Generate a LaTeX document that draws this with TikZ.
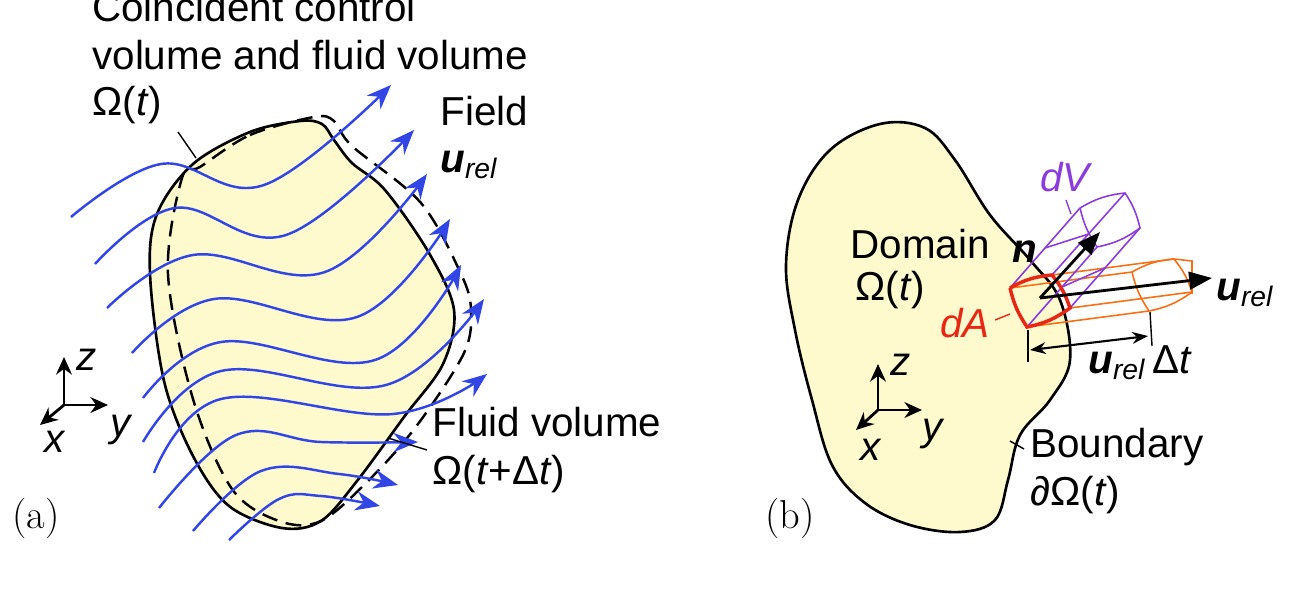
\documentclass[tikz,border=0pt]{standalone}
\usepackage{fontspec}
\setmainfont{Liberation Sans}
\newfontfamily\lmfont{Latin Modern Roman}
\usetikzlibrary{arrows.meta,calc}
\definecolor{blobfill}{RGB}{255,250,205}
\definecolor{flow}{RGB}{50,70,230}
\definecolor{vpurple}{RGB}{140,60,220}
\definecolor{aorange}{RGB}{250,110,20}
\definecolor{ared}{RGB}{230,40,20}
\tikzset{
 lbl/.style={anchor=base west,inner sep=0pt,font=\fontsize{23}{27}\selectfont},
 blob/.style={line width=1.5pt,fill=blobfill},
 stream/.style={flow,line width=1.4pt,-{Stealth[length=14pt,width=11pt]}},
 ax/.style={line width=1.6pt,-{Stealth[length=10pt,width=9pt]}},
 lead/.style={line width=0.8pt},
 vec/.style={line width=1.6pt,-{Triangle[length=13pt,width=10pt]}}
}
\newcommand{\urel}{\textbf{\textit{u}}\textsubscript{\textit{rel}}}
\begin{document}
\begin{tikzpicture}[x=0.02cm,y=-0.02cm]
\useasboundingbox (0,0) rectangle (1294,588);
% ---------- (a)
\draw[blob] plot[smooth cycle,tension=0.55] coordinates {(193,164)(250,132)(300,121)(322,124)(334,140)(352,163)(385,190)(429,253)(454,310)(443,364)(404,417)(357,481)(321,521)(282,528)(229,506)(193,456)(164,381)(150,274)(157,214)};
\draw[line width=1.4pt,dash pattern=on 9pt off 5pt] plot[smooth cycle,tension=0.55] coordinates {(200,167)(250,135)(314,117)(334,121)(352,146)(421,203)(461,274)(471,310)(464,353)(418,424)(371,478)(321,521)(279,521)(232,489)(193,399)(168,274)(182,178)};
\foreach \pts in {
 {(71,217)(161,164)(264,185)(391,85)},
 {(95,264)(175,208)(286,235)(414,130)},
 {(107,308)(193,255)(325,272)(427,174)},
 {(132,353)(214,299)(357,317)(450,219)},
 {(143,398)(221,342)(375,360)(461,265)},
 {(143,442)(221,371)(386,385)(484,299)},
 {(154,473)(221,399)(393,414)(487,374)},
 {(159,508)(236,435)(321,442)(418,442)},
 {(193,531)(261,471)(339,474)(398,485)},
 {(229,540)(279,499)(321,496)(380,506)}}{
 \draw[stream] plot[smooth,tension=0.65] coordinates \pts;
}
\node[lbl] (t1) at (92,22) {Coincident control};
\node[lbl] (t2) at (92,70) {volume and fluid volume};
\node[lbl] (t3) at (92,115) {Ω(\textit{t})};
\coordinate (l1a) at (178,132); \coordinate (l1b) at (196,158);
\draw[lead] (l1a) -- (l1b);
\node[lbl] (fld) at (440,126) {Field};
\node[lbl] (ur) at (440,172) {\urel};
\node[lbl] (fv) at (432,436) {Fluid volume};
\node[lbl] (fo) at (432,484) {Ω(\textit{t}+Δ\textit{t})};
\coordinate (l2a) at (388,438); \coordinate (l2b) at (427,450);
\draw[lead] (l2a) -- (l2b);
\node[lbl,font=\lmfont\fontsize{23}{27}\selectfont] (la) at (12,528) {(a)};
\coordinate (oa) at (64,405);
\draw[ax] (oa) -- ++(0,-48) coordinate (za);
\draw[ax] (oa) -- ++(44,0) coordinate (ya);
\draw[ax] (oa) -- ++(-24,20) coordinate (xa);
\node[lbl] at (76,370) {\textit{z}};
\node[lbl] at (110,436) {\textit{y}};
\node[lbl] at (44,452) {\textit{x}};
% ---------- (b)
\draw[blob] plot[smooth cycle,tension=0.6] coordinates {(786,265)(798,200)(830,150)(880,124)(925,128)(955,160)(990,215)(1030,260)(1060,300)(1070,360)(1050,400)(1020,435)(1008,480)(995,520)(960,532)(910,525)(865,503)(832,465)(812,400)(795,330)};
\node[lbl] (dom) at (850,258) {Domain};
\node[lbl] (dom2) at (855,300) {Ω(\textit{t})};
\coordinate (a1) at (1010,288); \coordinate (a2) at (1052,275);
\coordinate (a3) at (1070,308); \coordinate (a4) at (1027,327);
\begin{scope}[aorange,line width=0.9pt]
 \coordinate (o1) at ($(a1)+(122,-16)$); \coordinate (o2) at ($(a2)+(122,-16)$);
 \coordinate (o3) at ($(a3)+(122,-16)$); \coordinate (o4) at ($(a4)+(122,-16)$);
 \draw (a1)--(o1) (a2)--(o2) (a3)--(o3) (a4)--(o4);
 \draw (o1) to[bend left=12] (o2) to[bend left=10] (o3) to[bend left=12] (o4) to[bend left=10] (o1);
 \draw (o2) -- ++(18,2) -- ($(o3)+(0,2)$);
\end{scope}
\begin{scope}[vpurple,line width=0.9pt]
 \coordinate (p1) at ($(a1)+(70,-80)$); \coordinate (p2) at ($(a2)+(73,-82)$);
 \coordinate (p3) at ($(a3)+(70,-80)$); \coordinate (p4) at ($(a4)+(70,-80)$);
 \draw (a1)--(p1) (a2)--(p2) (a3)--(p3) (a4)--(p4);
 \draw (p1) to[bend left=12] (p2) to[bend left=10] (p3) to[bend left=12] (p4) to[bend left=10] (p1);
 \draw ($(a1)!0.5!(p1)$) -- ($(a2)!0.5!(p2)$);
 \draw ($(a4)!0.5!(p4)$) -- ($(a3)!0.5!(p3)$);
\end{scope}
\draw[ared,line width=2pt] (a1) to[bend left=12] (a2) to[bend left=10] (a3) to[bend left=12] (a4) to[bend left=10] (a1);
\coordinate (ob) at (1040,298);
\coordinate (nt) at (1100,232);
\coordinate (ut) at (1212,278);
\draw[vec] (ob) -- (nt);
\draw[vec] (ob) -- (ut);
\node[lbl] (nl) at (1012,262) {\textbf{\textit{n}}};
\node[lbl] (ul) at (1216,300) {\urel};
\node[lbl,vpurple] (dv) at (1040,191) {\textit{dV}};
\draw[vpurple,lead] (1066,200) -- (1071,214);
\node[lbl,ared] (da) at (940,337) {\textit{dA}};
\draw[ared,lead] (995,320) -- (1010,314);
\draw[lead] (1028,330) -- (1028,362);
\draw[lead] (1150,312) -- (1152,346);
\draw[line width=1.2pt,{Stealth[length=9pt]}-{Stealth[length=9pt]}] (1030,350) -- (1148,336);
\node[lbl] (ud) at (1088,373) {\urel\,Δ\textit{t}};
\node[lbl] (bd) at (1030,457) {Boundary};
\node[lbl] (bd2) at (1030,505) {∂Ω(\textit{t})};
\draw[lead] (1010,441) -- (1024,449);
\node[lbl,font=\lmfont\fontsize{23}{27}\selectfont] (lb) at (765,528) {(b)};
\coordinate (obx) at (878,410);
\draw[ax] (obx) -- ++(0,-46);
\draw[ax] (obx) -- ++(44,0);
\draw[ax] (obx) -- ++(-22,20);
\node[lbl] at (890,375) {\textit{z}};
\node[lbl] at (922,440) {\textit{y}};
\node[lbl] at (860,460) {\textit{x}};
\end{tikzpicture}
\end{document}
